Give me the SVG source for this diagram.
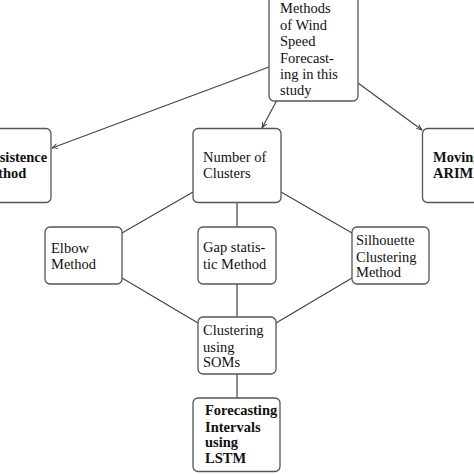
<svg xmlns="http://www.w3.org/2000/svg" width="474" height="474" viewBox="0 0 474 474">
<defs>
<marker id="arr" viewBox="0 0 10 10" refX="9" refY="5" markerWidth="7" markerHeight="7" orient="auto" markerUnits="userSpaceOnUse">
<path d="M1,1.5 Q5,4 9,5 Q5,6 1,8.5" fill="none" stroke="#333" stroke-width="1.3"/>
</marker>
<style>
.box{fill:#fff;stroke:#555;stroke-width:1.3}
.t{font-family:"Liberation Serif","DejaVu Serif",serif;font-size:14.5px;fill:#111}
.b{font-weight:bold}
.e{stroke:#444;stroke-width:1.2;fill:none}
</style>
</defs>
<rect width="474" height="474" fill="#fff"/>
<g id="edges">
<line class="e" x1="269" y1="67" x2="52" y2="148" marker-end="url(#arr)"/>
<line class="e" x1="276.5" y1="101" x2="262" y2="128" marker-end="url(#arr)"/>
<line class="e" x1="358" y1="83" x2="422" y2="130" marker-end="url(#arr)"/>
<line class="e" x1="193" y1="192" x2="122" y2="233"/>
<line class="e" x1="281" y1="192" x2="352" y2="233"/>
<line class="e" x1="237" y1="203" x2="237" y2="227"/>
<line class="e" x1="122" y1="278" x2="198" y2="323"/>
<line class="e" x1="352" y1="278" x2="276" y2="323"/>
<line class="e" x1="237" y1="284" x2="237" y2="317"/>
<line class="e" x1="237" y1="374" x2="237" y2="398"/>
</g>
<g id="n-methods">
<rect class="box" x="269" y="-6" width="89" height="107" rx="5"/>
<text class="t" x="280"><tspan x="280" y="13">Methods</tspan><tspan x="280" y="29.5">of Wind</tspan><tspan x="280" y="46">Speed</tspan><tspan x="280" y="62.5">Forecast-</tspan><tspan x="280" y="79">ing in this</tspan><tspan x="280" y="95">study</tspan></text>
</g>
<g id="n-persistence">
<rect class="box" x="-32" y="128.5" width="83" height="74" rx="5"/>
<text class="t b" x="-22"><tspan x="-22" y="162">Persistence</tspan><tspan x="-22" y="178">Method</tspan></text>
</g>
<g id="n-clusters">
<rect class="box" x="193" y="128.5" width="88" height="74" rx="5"/>
<text class="t" x="203"><tspan x="203" y="162">Number of</tspan><tspan x="203" y="178">Clusters</tspan></text>
</g>
<g id="n-arima">
<rect class="box" x="422.5" y="128.5" width="90" height="74" rx="5"/>
<text class="t b" x="433"><tspan x="433" y="162">Moving</tspan><tspan x="433" y="178">ARIMA</tspan></text>
</g>
<g id="n-elbow">
<rect class="box" x="45" y="227" width="77" height="57" rx="5"/>
<text class="t" x="51"><tspan x="51" y="253">Elbow</tspan><tspan x="51" y="268.5">Method</tspan></text>
</g>
<g id="n-gap">
<rect class="box" x="198" y="227" width="78" height="57" rx="5"/>
<text class="t" x="203"><tspan x="203" y="252">Gap statis-</tspan><tspan x="203" y="268.5">tic Method</tspan></text>
</g>
<g id="n-silhouette">
<rect class="box" x="352" y="227" width="77" height="57" rx="5"/>
<text class="t" x="356"><tspan x="356" y="245">Silhouette</tspan><tspan x="356" y="261.5">Clustering</tspan><tspan x="356" y="277">Method</tspan></text>
</g>
<g id="n-soms">
<rect class="box" x="198" y="317" width="78" height="57" rx="5"/>
<text class="t" x="203"><tspan x="203" y="335">Clustering</tspan><tspan x="203" y="351.5">using</tspan><tspan x="203" y="366.5">SOMs</tspan></text>
</g>
<g id="n-lstm">
<rect class="box" x="193" y="398" width="87" height="73.5" rx="5"/>
<text class="t b" x="205"><tspan x="205" y="415">Forecasting</tspan><tspan x="205" y="431.5">Intervals</tspan><tspan x="205" y="447">using</tspan><tspan x="205" y="463">LSTM</tspan></text>
</g>
</svg>
